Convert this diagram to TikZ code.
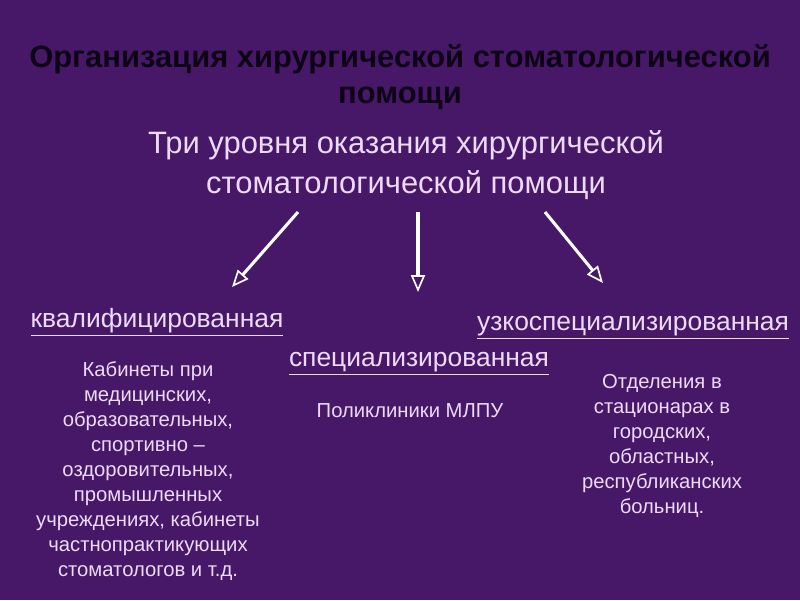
\documentclass[tikz,border=0pt]{standalone}
\usepackage{fontspec}
\setmainfont{Liberation Sans}
\usetikzlibrary{arrows.meta}
\definecolor{bgpurple}{RGB}{72,24,104}
\definecolor{lilac}{RGB}{236,218,246}
\definecolor{titledark}{RGB}{12,4,20}
\begin{document}
\begin{tikzpicture}[x=0.025cm,y=-0.025cm,
	title/.style={font=\bfseries\fontsize{22pt}{25pt}\selectfont, text=titledark, align=center},
	subtitle/.style={font=\fontsize{22pt}{28.5pt}\selectfont, text=lilac, align=center},
	level/.style={font=\fontsize{18.8pt}{22pt}\selectfont, text=lilac},
	body/.style={font=\fontsize{14.4pt}{17.8pt}\selectfont, text=lilac, align=center},
	arr/.style={draw=white, line width=2.2pt, -{Triangle[open, length=12pt, width=10pt, line width=1.2pt]}},
	]
	\fill[bgpurple] (0,0) rectangle (800,600);
	\useasboundingbox (0,0) rectangle (800,600);
	
	\node[title] (t) at (400,77) {Организация хирургической стоматологической\\помощи};
	\node[subtitle] (s) at (406,165) {Три уровня оказания хирургической\\стоматологической помощи};
	
	\node[level] (kval) at (157,322) {\underline{квалифицированная}};
	\node[level] (spec) at (419,364) {\underline{специализированная}};
	\node[level] (uzk) at (633,328) {\underline{узкоспециализированная}};
	
	\node[body] (kab) at (148,471) {Кабинеты при\\медицинских,\\образовательных,\\спортивно --\\оздоровительных,\\промышленных\\учреждениях, кабинеты\\частнопрактикующих\\стоматологов и т.д.};
	\node[body] (pol) at (410,411) {Поликлиники МЛПУ};
	\node[body] (otd) at (662,446) {Отделения в\\стационарах в\\городских,\\областных,\\республиканских\\больниц.};
	
	% arrows from the subtitle to the three levels
	\coordinate (a1s) at (298,212);
	\coordinate (a1e) at (232,287);
	\coordinate (a2s) at (418,212);
	\coordinate (a2e) at (418,292);
	\coordinate (a3s) at (545,212);
	\coordinate (a3e) at (603,283);
	\draw[arr] (a1s) -- (a1e);
	\draw[arr] (a2s) -- (a2e);
	\draw[arr] (a3s) -- (a3e);
\end{tikzpicture}
\end{document}
